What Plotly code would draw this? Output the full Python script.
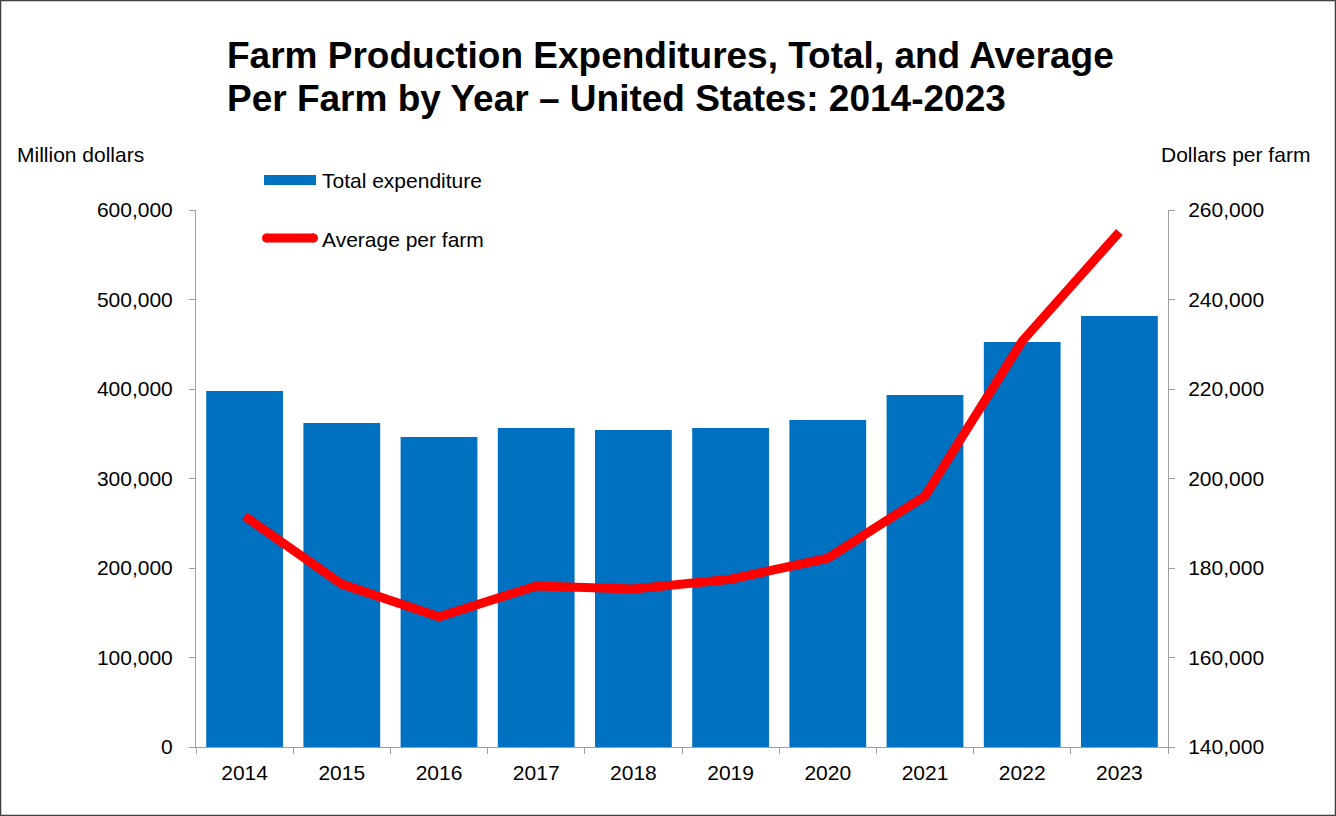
import plotly.graph_objects as go

years = ["2014", "2015", "2016", "2017", "2018", "2019", "2020", "2021", "2022", "2023"]
total_expenditure = [397800, 362000, 346500, 356500, 354200, 356500, 365400, 393300, 452500, 481600]
average_per_farm = [191600, 176400, 169100, 176000, 175300, 177500, 182200, 196100, 230700, 255100]

left_ticks = [0, 100000, 200000, 300000, 400000, 500000, 600000]
right_ticks = [140000, 160000, 180000, 200000, 220000, 240000, 260000]

W, H = 1336, 816
L, R, T, B = 196, 168, 210, 69
PW, PH = W - L - R, H - T - B
FONT = "Liberation Sans, Arial, sans-serif"
FS = 21


def px(x):
    return (x - L) / PW


def py(y):
    return (H - B - y) / PH


fig = go.Figure()
fig.add_trace(go.Bar(
    x=years, y=total_expenditure, name="Total expenditure",
    marker=dict(color="#0070C0", line=dict(width=0)), yaxis="y",
    showlegend=False,
))
fig.add_trace(go.Scatter(
    x=years, y=average_per_farm, name="Average per farm", mode="lines",
    line=dict(color="#FF0000", width=9), yaxis="y2", showlegend=False,
))

axis_common = dict(
    showgrid=False, zeroline=False, showline=True, linecolor="#a0a0a0",
    linewidth=1, ticks="outside", ticklen=6, tickcolor="#a0a0a0",
    tickfont=dict(family=FONT, size=FS, color="#000000"),
)

fig.update_layout(
    width=W, height=H,
    margin=dict(l=L, r=R, t=T, b=B, pad=0),
    paper_bgcolor="white", plot_bgcolor="white",
    bargap=0.21,
    showlegend=False,
    xaxis=dict(type="category", categoryorder="array", categoryarray=years,
               tickson="boundaries", ticklabelstandoff=7, **axis_common),
    yaxis=dict(range=[0, 600000], tickvals=left_ticks, tickformat=",",
               ticklabelstandoff=12, **axis_common),
    yaxis2=dict(range=[140000, 260000], tickvals=right_ticks, tickformat=",",
                overlaying="y", side="right", ticklabelstandoff=9, **axis_common),
)

title_font = dict(family=FONT, size=37, color="#000000", weight="bold")
annotations = [
    dict(text="Farm Production Expenditures, Total, and Average",
         x=px(225), y=py(55), xref="paper", yref="paper", xanchor="left", yanchor="middle",
         align="left", showarrow=False, font=title_font),
    dict(text="Per Farm by Year – United States: 2014-2023",
         x=px(225), y=py(98), xref="paper", yref="paper", xanchor="left", yanchor="middle",
         align="left", showarrow=False, font=title_font),
    dict(text="Million dollars", x=px(15), y=py(154), xref="paper", yref="paper",
         xanchor="left", yanchor="middle", showarrow=False,
         font=dict(family=FONT, size=FS, color="#000000")),
    dict(text="Dollars per farm", x=px(1312), y=py(154), xref="paper", yref="paper",
         xanchor="right", yanchor="middle", showarrow=False,
         font=dict(family=FONT, size=FS, color="#000000")),
    dict(text="Total expenditure", x=px(320), y=py(181), xref="paper", yref="paper",
         xanchor="left", yanchor="middle", showarrow=False,
         font=dict(family=FONT, size=FS, color="#000000")),
    dict(text="Average per farm", x=px(320), y=py(239), xref="paper", yref="paper",
         xanchor="left", yanchor="middle", showarrow=False,
         font=dict(family=FONT, size=FS, color="#000000")),
]

shapes = [
    dict(type="rect", xref="paper", yref="paper", x0=px(264), x1=px(316),
         y0=py(185), y1=py(175), fillcolor="#0070C0", line=dict(width=0)),
    dict(type="line", xref="paper", yref="paper", x0=px(266), x1=px(314),
         y0=py(238), y1=py(238), line=dict(color="#FF0000", width=9)),
    dict(type="circle", xref="paper", yref="paper", x0=px(262), x1=px(271),
         y0=py(242.5), y1=py(233.5), fillcolor="#FF0000", line=dict(width=0)),
    dict(type="circle", xref="paper", yref="paper", x0=px(309), x1=px(318),
         y0=py(242.5), y1=py(233.5), fillcolor="#FF0000", line=dict(width=0)),
    dict(type="rect", xref="paper", yref="paper", x0=px(0.5), x1=px(1335.5),
         y0=py(815.5), y1=py(0.5), line=dict(color="#404040", width=1.5),
         fillcolor="rgba(0,0,0,0)"),
]

fig.update_layout(annotations=annotations, shapes=shapes)
fig.write_html("out.html")
